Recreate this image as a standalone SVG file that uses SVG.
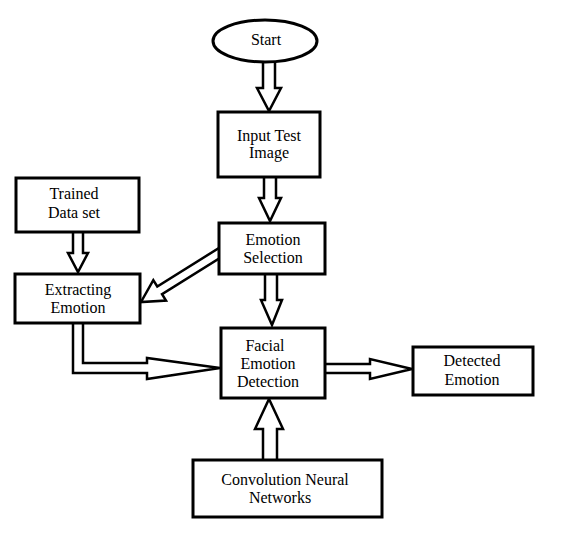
<svg xmlns="http://www.w3.org/2000/svg" width="566" height="558" viewBox="0 0 566 558">
<style>
.box{fill:#fff;stroke:#000;stroke-width:3}
.arr{fill:#fff;stroke:#000;stroke-width:2.5;stroke-linejoin:miter}
text{font-family:"Liberation Serif","Times New Roman",serif;font-size:16px;fill:#000;text-anchor:middle}
</style>
<rect width="566" height="558" fill="#fff"/>
<g id="connectors">
<polygon class="arr" points="263,58 275,58 275,88 281,88 269,111 257,88 263,88"/>
<polygon class="arr" points="264,174 276,174 276,198 281,198 270,221 259,198 264,198"/>
<polygon class="arr" points="265,271 277,271 277,300 282,300 272,325 261,300 265,300"/>
<polygon class="arr" points="73,229 83,229 83,253 88,253 78,272 68,253 73,253"/>
<polygon class="arr" points="263,462 277,462 277,429 283,429 269,399 255,429 263,429"/>
<polygon class="arr" points="322,364 370,364 370,359 412,369 370,379 370,373 322,373"/>
<polygon class="arr" points="73,320 73,373 147,373 147,379 220,368 147,358 147,363 83,363 83,320"/>
<polygon class="arr" transform="translate(141,302) rotate(-32)" points="0,0 22,-12 22,-4.5 100,-4.5 100,4.5 22,4.5 22,12"/>
</g>
<g id="start">
<ellipse class="box" cx="265" cy="41" rx="52" ry="21"/>
<text x="266" y="45">Start</text>
</g>
<g id="input">
<rect class="box" x="218" y="112" width="102" height="65"/>
<text x="269" y="141">Input Test</text>
<text x="269" y="158">Image</text>
</g>
<g id="trained">
<rect class="box" x="16" y="178" width="123" height="54"/>
<text x="74" y="199">Trained</text>
<text x="74" y="218">Data set</text>
</g>
<g id="selection">
<rect class="box" x="219" y="223" width="106" height="51"/>
<text x="273" y="245">Emotion</text>
<text x="273" y="263">Selection</text>
</g>
<g id="extracting">
<rect class="box" x="15" y="274" width="125" height="49"/>
<text x="78" y="295">Extracting</text>
<text x="78" y="313">Emotion</text>
</g>
<g id="facial">
<rect class="box" x="221" y="328" width="104" height="70"/>
<text x="265" y="351">Facial</text>
<text x="268" y="369">Emotion</text>
<text x="268" y="387">Detection</text>
</g>
<g id="detected">
<rect class="box" x="413" y="347" width="120" height="48"/>
<text x="472" y="366">Detected</text>
<text x="472" y="385">Emotion</text>
</g>
<g id="cnn">
<rect class="box" x="193" y="460" width="189" height="57"/>
<text x="285" y="485">Convolution Neural</text>
<text x="280" y="503">Networks</text>
</g>
</svg>
